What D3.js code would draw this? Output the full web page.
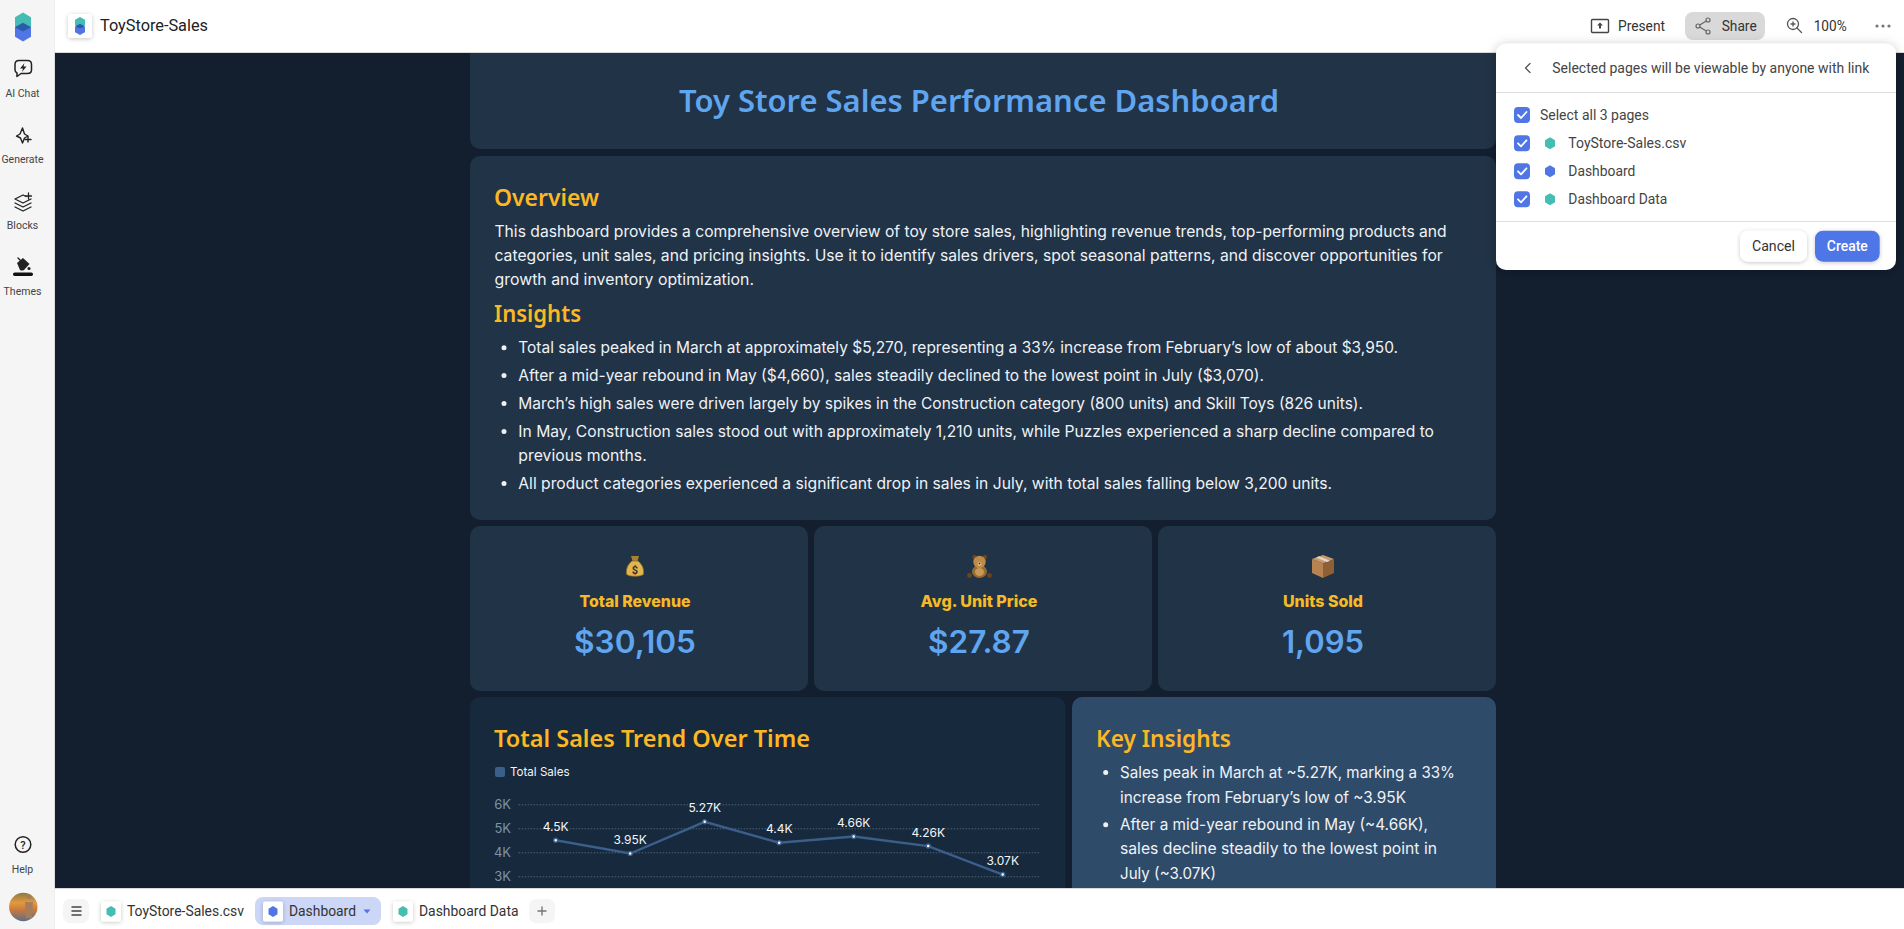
<!DOCTYPE html>
<html>
<head>
<meta charset="utf-8">
<title>ToyStore-Sales</title>
<script src="https://cdn.jsdelivr.net/npm/d3@7"></script>
<style>
  html, body { margin: 0; padding: 0; background: #131f2f; overflow: hidden; }
  svg { display: block; }
</style>
</head>
<body>
<svg id="page" width="1904" height="929"></svg>
<script>
// chart data
let months = ['Jan', 'Feb', 'Mar', 'Apr', 'May', 'Jun', 'Jul']
let totalSales = [4500, 3950, 5270, 4400, 4660, 4260, 3070]
let yTicks = [3000, 4000, 5000, 6000]

// kpi cards
let kpiLabels = ['Total Revenue', 'Avg. Unit Price', 'Units Sold']
let kpiValues = ['$30,105', '$27.87', '1,095']

// text blocks
let overviewLines = [
    'This dashboard provides a comprehensive overview of toy store sales, highlighting revenue trends, top-performing products and',
    'categories, unit sales, and pricing insights. Use it to identify sales drivers, spot seasonal patterns, and discover opportunities for',
    'growth and inventory optimization.'
]
let insightLines = [
    'Total sales peaked in March at approximately $5,270, representing a 33% increase from February\u2019s low of about $3,950.',
    'After a mid-year rebound in May ($4,660), sales steadily declined to the lowest point in July ($3,070).',
    'March\u2019s high sales were driven largely by spikes in the Construction category (800 units) and Skill Toys (826 units).',
    'In May, Construction sales stood out with approximately 1,210 units, while Puzzles experienced a sharp decline compared to',
    'previous months.',
    'All product categories experienced a significant drop in sales in July, with total sales falling below 3,200 units.'
]
let keyInsightLines = [
    'Sales peak in March at ~5.27K, marking a 33%',
    'increase from February\u2019s low of ~3.95K',
    'After a mid-year rebound in May (~4.66K),',
    'sales decline steadily to the lowest point in',
    'July (~3.07K)'
]

// app chrome
let sideItems = ['AI Chat', 'Generate', 'Blocks', 'Themes']
let shareRows = ['ToyStore-Sales.csv', 'Dashboard', 'Dashboard Data']
let tabs = ['ToyStore-Sales.csv', 'Dashboard', 'Dashboard Data']

let bodyFont = 'Inter, sans-serif'
let headFont = '"Noto Sans", sans-serif'
let uiFont = 'Roboto, sans-serif'
let teal = '#45bdb3'
let blue = '#5076e6'
let gold = '#fbb824'
let skyBlue = '#60a5f0'

let svg = d3.select('#page')

let defs = svg.append('defs')
let shadow = defs.append('filter').attr('id', 'shadow')
    .attr('x', '-20%').attr('y', '-20%').attr('width', '140%').attr('height', '140%')
shadow.append('feDropShadow').attr('dx', 0).attr('dy', 1).attr('stdDeviation', 2)
    .attr('flood-color', '#000').attr('flood-opacity', 0.22)
let popShadow = defs.append('filter').attr('id', 'popShadow')
    .attr('x', '-10%').attr('y', '-10%').attr('width', '120%').attr('height', '120%')
popShadow.append('feDropShadow').attr('dx', 0).attr('dy', 2).attr('stdDeviation', 6)
    .attr('flood-color', '#000').attr('flood-opacity', 0.25)
let avatarFill = defs.append('linearGradient').attr('id', 'avatarFill')
    .attr('x1', 0).attr('y1', 0).attr('x2', 0).attr('y2', 1)
avatarFill.append('stop').attr('offset', '0%').attr('stop-color', '#8a7a4a')
avatarFill.append('stop').attr('offset', '35%').attr('stop-color', '#e39a3c')
avatarFill.append('stop').attr('offset', '60%').attr('stop-color', '#c9793f')
avatarFill.append('stop').attr('offset', '100%').attr('stop-color', '#5c6f86')

let box = (parent, x, y, w, h, r, fill) => parent.append('rect')
    .attr('x', x).attr('y', y).attr('width', w).attr('height', h).attr('rx', r).attr('fill', fill)

// w squeezes or stretches the text to the width
let label = (parent, str, x, y, size, fill, font, weight, w, anchor) => {
    let t = parent.append('text')
        .attr('x', x).attr('y', y).attr('font-size', size).attr('fill', fill)
        .attr('font-family', font).attr('font-weight', weight || 400)
        .attr('text-anchor', anchor || 'start')
        .text(str)
    if(w) {
        t.attr('textLength', w).attr('lengthAdjust', 'spacingAndGlyphs')
    }
    return t
}

let hexPath = (cx, cy, rx, ry) => {
    let pts = [[0, -ry], [rx, -ry / 2], [rx, ry / 2], [0, ry], [-rx, ry / 2], [-rx, -ry / 2]]
    return 'M' + pts.map(p => [cx + p[0], cy + p[1]].join(',')).join('L') + 'Z'
}
let hex = (parent, cx, cy, rx, ry, fill) => parent.append('path')
    .attr('d', hexPath(cx, cy, rx, ry)).attr('fill', fill)

let stroke = (parent, d, color, width) => parent.append('path')
    .attr('d', d).attr('fill', 'none').attr('stroke', color)
    .attr('stroke-width', width || 1.4).attr('stroke-linecap', 'round').attr('stroke-linejoin', 'round')

// ---- dashboard cards ----
let dash = svg.append('g')
box(dash, 0, 0, 1904, 929, 0, '#131f2f')
box(dash, 470, 40, 1026, 109, 10, '#213347')
label(dash, 'Toy Store Sales Performance Dashboard', 679, 111.5, 31, skyBlue, headFont, 600, 600)

box(dash, 470, 156, 1026, 364, 10, '#213347')
label(dash, 'Overview', 494, 205.5, 24, gold, headFont, 600, 105)
let overviewEnds = [1446.7, 1442.7, 754]
overviewLines.forEach((line, i) => {
    label(dash, line, 494.5, 237.3 + i * 24, 15.6, '#eef2f6', bodyFont, 400, overviewEnds[i] - 494.5)
})
label(dash, 'Insights', 494, 321.5, 24, gold, headFont, 600, 87)
let insightY = [353.3, 381, 409, 437, 461, 489]
let insightEnds = [1398, 1264, 1363, 1434, 646.7, 1332]
insightLines.forEach((line, i) => {
    label(dash, line, 518.3, insightY[i], 15.6, '#eef2f6', bodyFont, 400, insightEnds[i] - 518.3)
    if(i !== 4) {
        dash.append('circle').attr('cx', 504).attr('cy', insightY[i] - 5.5).attr('r', 2.5).attr('fill', '#eef2f6')
    }
})

let kpiX = d3.scalePoint().domain(kpiLabels).range([635, 1323])
let kpiCardX = [470, 814, 1158]
kpiLabels.forEach((name, i) => {
    box(dash, kpiCardX[i], 526, 338, 165, 10, '#213347')
    let cx = kpiX(name)
    label(dash, name, cx, 606.5, 16, '#f5bb26', bodyFont, 800, [111, 117, 80][i], 'middle')
    label(dash, kpiValues[i], cx, 652.5, 31, skyBlue, bodyFont, 600, [122, 102, 82][i], 'middle')
})

// money bag
let bag = dash.append('g')
bag.append('path').attr('d', 'M631 556 L639 556 L637.5 561 L632.5 561 Z').attr('fill', '#a9812f')
bag.append('path').attr('d', 'M632 561 L638 561 C643 565 644 570 643.5 574 C643 577 627 577 626.5 574 C626 570 627 565 632 561 Z')
    .attr('fill', '#e2b64f').attr('stroke', '#8d6a22').attr('stroke-width', 0.8)
label(bag, '$', 635, 574, 11, '#3b3326', uiFont, 700, null, 'middle')
// teddy bear
let bear = dash.append('g')
bear.selectAll('circle.part')
    .data([[974.5, 557, 2.2], [985, 557, 2.2], [969.5, 575.5, 2.4], [989.5, 575.5, 2.4]])
    .enter().append('circle').attr('cx', d => d[0]).attr('cy', d => d[1]).attr('r', d => d[2]).attr('fill', '#6e4418')
bear.append('ellipse').attr('cx', 979.5).attr('cy', 571.5).attr('rx', 7.5).attr('ry', 6.5).attr('fill', '#9a6a30')
bear.append('ellipse').attr('cx', 979.5).attr('cy', 572).attr('rx', 4.5).attr('ry', 4).attr('fill', '#c89a58')
bear.append('circle').attr('cx', 979.5).attr('cy', 562).attr('r', 6.2).attr('fill', '#bd8a48')
bear.append('circle').attr('cx', 979.5).attr('cy', 564).attr('r', 2).attr('fill', '#e0b880')
bear.append('circle').attr('cx', 979.5).attr('cy', 563.5).attr('r', 0.8).attr('fill', '#2b1a0c')
// parcel
let parcel = dash.append('g')
parcel.append('path').attr('d', 'M1323 555 L1334 559 L1323 563.5 L1312 559 Z').attr('fill', '#c79a6b')
parcel.append('path').attr('d', 'M1312 559 L1323 563.5 L1323 578 L1312 573 Z').attr('fill', '#b78350')
parcel.append('path').attr('d', 'M1334 559 L1323 563.5 L1323 578 L1334 573 Z').attr('fill', '#8f5f35')
parcel.append('path').attr('d', 'M1316 557.4 L1327 561.9 L1330 560.7 L1319 556.2 Z').attr('fill', '#e3d6c6')

// ---- line chart card ----
box(dash, 470, 697, 595.5, 232, 10, '#16293d')
label(dash, 'Total Sales Trend Over Time', 494, 747.3, 24, gold, headFont, 600, 316)
box(dash, 495, 767, 10, 10, 2, '#3b5f8a')
label(dash, 'Total Sales', 510, 776, 12, '#f2f5f8', bodyFont, 400, 59.5)

let x = d3.scalePoint().domain(months).range([555.7, 1002.7])
let y = d3.scaleLinear().domain([3000, 6000]).range([876.3, 804.3])
let formatK = v => (v / 1000) + 'K'

let chart = dash.append('g')
let yAxis = d3.axisLeft(y)
    .tickValues(yTicks)
    .tickSize(-521.4)
    .tickPadding(7.5)
    .tickFormat(formatK)
chart.append('g')
    .attr('transform', 'translate(518.6,0)')
    .call(yAxis)
    .call(g => g.select('.domain').remove())
    .call(g => g.selectAll('.tick line')
        .attr('stroke', '#4f6276').attr('stroke-width', 1).attr('stroke-dasharray', '1.5,1.5'))
    .call(g => g.selectAll('.tick text')
        .attr('fill', '#7f93a8').attr('font-size', 13).attr('font-family', bodyFont))

let salesLine = d3.line().x((d, i) => x(months[i])).y(d => y(d))
chart.append('path')
    .datum(totalSales)
    .attr('d', salesLine)
    .attr('fill', 'none')
    .attr('stroke', '#3b5f8a')
    .attr('stroke-width', 2.4)

chart.selectAll('circle.dot')
    .data(totalSales)
    .enter()
    .append('circle')
    .attr('cx', (d, i) => x(months[i]))
    .attr('cy', d => y(d))
    .attr('r', 2)
    .attr('fill', '#fff')
    .attr('stroke', '#3b5f8a')
    .attr('stroke-width', 1.5)

chart.selectAll('text.point')
    .data(totalSales)
    .enter()
    .append('text')
    .attr('x', (d, i) => x(months[i]))
    .attr('y', d => y(d) - 9.5)
    .attr('text-anchor', 'middle')
    .attr('font-size', 12)
    .attr('font-family', bodyFont)
    .attr('fill', '#f4f6f8')
    .text(formatK)

// ---- key insights card ----
box(dash, 1072, 697, 424, 232, 10, '#2f4b6a')
label(dash, 'Key Insights', 1096, 747.3, 24, gold, headFont, 600, 135)
let keyY = [778, 802.5, 830.3, 854.3, 878.5]
let keyW = [335, 286, 308, 317, 96]
keyInsightLines.forEach((l, i) => {
    label(dash, l, 1120, keyY[i], 15.6, '#eef2f6', bodyFont, 400, keyW[i])
})
;[772.5, 824.8].forEach(cy => {
    dash.append('circle').attr('cx', 1105.7).attr('cy', cy).attr('r', 2.5).attr('fill', '#eef2f6')
})

// ---- sidebar ----
let side = svg.append('g')
box(side, 0, 0, 54.5, 929, 0, '#f5f5f5')
side.append('line').attr('x1', 54.5).attr('x2', 54.5).attr('y1', 0).attr('y2', 929).attr('stroke', '#dcdcdc')
hex(side, 23, 22, 8, 9.5, teal)
hex(side, 23, 32, 8, 9.5, blue)
side.append('path').attr('d', 'M23 23 L31 27.2 L23 31.4 L15 27.2 Z').attr('fill', '#2a5ca8')

let sideY = [96.7, 163, 229, 295]
sideItems.forEach((name, i) => {
    label(side, name, 22.5, sideY[i], 10.5, '#444', uiFont, 400, null, 'middle')
})
stroke(side, 'M19 60.5 H27.5 Q31.5 60.5 31.5 64.5 V70 Q31.5 73.5 27.5 73.5 H21 L17 76.5 V73 Q15 72 15 70 V64.5 Q15 60.5 19 60.5 Z', '#222', 1.5)
side.append('path').attr('d', 'M24.5 63 L20 68.5 H23 L22 72 L26.5 66.5 H23.5 Z').attr('fill', '#222')
stroke(side, 'M22.5 128 L24.5 134 L28 136 L24.5 138 L22.5 143 L20.5 138 L16.5 136 L20 134 Z', '#222', 1.4)
stroke(side, 'M28 136.5 V142 M25 139.5 H31', '#222', 1.4)
stroke(side, 'M15 199 L23 195 L26 196.5 M15 203 L23 207 L31 203 M15 207 L23 211 L31 207 M15 199 L23 203 L31 199', '#222', 1.3)
stroke(side, 'M28.5 193 V199 M25.5 196 H31.5', '#222', 1.3)
side.append('path').attr('d', 'M17 263 L23 258 L29.5 264 L24 270 Q22 271 20 270 Z').attr('fill', '#222')
stroke(side, 'M18 258 L22 262', '#222', 1.4)
side.append('circle').attr('cx', 29).attr('cy', 268.5).attr('r', 1.6).attr('fill', '#222')
box(side, 13, 272.5, 20, 3.5, 1.7, '#111')

side.append('circle').attr('cx', 23).attr('cy', 844.5).attr('r', 7.8)
    .attr('fill', 'none').attr('stroke', '#222').attr('stroke-width', 1.5)
label(side, '?', 23, 848.5, 11, '#222', uiFont, 500, null, 'middle')
label(side, 'Help', 22.5, 873, 10.5, '#444', uiFont, 400, null, 'middle')
side.append('circle').attr('cx', 23.3).attr('cy', 907).attr('r', 14.2).attr('fill', 'url(#avatarFill)')
side.append('path').attr('d', 'M29 899 a2.3 2.3 0 1 1 0.1 0 Z M25 902 H33 L32 918 H26 Z').attr('fill', '#a67c5a')

// ---- top bar ----
let topBar = svg.append('g')
box(topBar, 54.5, 0, 1849.5, 52.5, 0, '#fff')
topBar.append('line').attr('x1', 54.5).attr('x2', 1904).attr('y1', 52.5).attr('y2', 52.5).attr('stroke', '#d9d9d9')
box(topBar, 68, 14, 24, 24, 3, '#fff').attr('filter', 'url(#shadow)')
hex(topBar, 80, 22.5, 5, 5.5, teal)
hex(topBar, 80, 29.5, 5, 5.5, blue)
topBar.append('path').attr('d', 'M80 24 L85 26.2 L80 28.4 L75 26.2 Z').attr('fill', '#2a5ca8')
label(topBar, 'ToyStore-Sales', 100, 31, 16, '#222', uiFont, 400, 108)

topBar.append('rect').attr('x', 1591.5).attr('y', 19.5).attr('width', 17).attr('height', 13).attr('rx', 1)
    .attr('fill', 'none').attr('stroke', '#444').attr('stroke-width', 1.4)
topBar.append('path').attr('d', 'M1600 22.5 L1603 25.5 H1601 V28.5 H1599 V25.5 H1597 Z').attr('fill', '#444')
label(topBar, 'Present', 1618, 31, 14, '#333', uiFont, 400, 47)

box(topBar, 1685, 12, 80, 28, 8, '#d9d9d9')
stroke(topBar, 'M1708 20 L1698 26 L1708 32', '#666', 1.2)
;[[1708, 20], [1698, 26], [1708, 32]].forEach(p => {
    topBar.append('circle').attr('cx', p[0]).attr('cy', p[1]).attr('r', 2)
        .attr('fill', '#d9d9d9').attr('stroke', '#666').attr('stroke-width', 1.2)
})
label(topBar, 'Share', 1721.7, 31, 14, '#333', uiFont, 400, 35)

topBar.append('circle').attr('cx', 1793).attr('cy', 24).attr('r', 5.5)
    .attr('fill', 'none').attr('stroke', '#555').attr('stroke-width', 1.3)
stroke(topBar, 'M1797 28 L1801.5 32.5 M1791 24 H1795 M1793 22 V26', '#555', 1.3)
label(topBar, '100%', 1813.7, 31, 14, '#333', uiFont, 400, 33)
;[1877, 1883, 1889].forEach(cx => {
    topBar.append('circle').attr('cx', cx).attr('cy', 26).attr('r', 1.6).attr('fill', '#777')
})

// ---- share popup ----
let pop = svg.append('g')
box(pop, 1496, 43.7, 400, 226.3, 10, '#fff').attr('filter', 'url(#popShadow)')
stroke(pop, 'M1530 63.5 L1525.5 68 L1530 72.5', '#555', 1.3)
label(pop, 'Selected pages will be viewable by anyone with link', 1552.3, 73, 14, '#444', uiFont, 400, 317)
pop.append('line').attr('x1', 1496).attr('x2', 1896).attr('y1', 92.5).attr('y2', 92.5).attr('stroke', '#ddd')
pop.append('line').attr('x1', 1496).attr('x2', 1896).attr('y1', 221.5).attr('y2', 221.5).attr('stroke', '#ddd')

let checkbox = cy => {
    box(pop, 1514, cy - 8, 16, 16, 4, blue)
    stroke(pop, `M1518 ${cy} L1521 ${cy + 3} L1526.5 ${cy - 3}`, '#fff', 1.8)
}
checkbox(115)
label(pop, 'Select all 3 pages', 1540, 120, 14, '#444', uiFont, 400, 109)
let rowWidths = [118, 67, 99]
shareRows.forEach((row, i) => {
    let cy = 143.3 + i * 28
    checkbox(cy)
    hex(pop, 1550, cy, 5, 6, i === 1 ? blue : teal)
    label(pop, row, 1568.3, cy + 5, 14, '#444', uiFont, 400, rowWidths[i])
})
box(pop, 1740, 230.7, 67, 31, 8, '#fff').attr('filter', 'url(#shadow)')
label(pop, 'Cancel', 1773.5, 251, 14, '#333', uiFont, 400, 43, 'middle')
box(pop, 1815, 230.7, 64.7, 31, 8, blue).attr('filter', 'url(#shadow)')
label(pop, 'Create', 1847.3, 251, 14, '#fff', uiFont, 500, 41, 'middle')

// ---- bottom tab bar ----
let bar = svg.append('g')
box(bar, 54.5, 888.5, 1849.5, 40.5, 0, '#fff')
bar.append('line').attr('x1', 54.5).attr('x2', 1904).attr('y1', 888.5).attr('y2', 888.5).attr('stroke', '#d9d9d9')
box(bar, 63, 899, 26, 24, 7, '#f5f5f5')
stroke(bar, 'M72 907 H81 M72 911 H81 M72 915 H81', '#444', 1.4)
box(bar, 255, 897, 126, 28, 8, '#ccd6f6')
let tabIconX = [111, 273, 403]
let tabTextX = [127, 289, 419]
let tabTextW = [117, 67, 99.5]
tabs.forEach((tab, i) => {
    box(bar, tabIconX[i] - 10, 901.5, 20, 20, 2, '#fff').attr('filter', 'url(#shadow)')
    hex(bar, tabIconX[i], 911.5, 4.5, 5.5, i === 1 ? blue : teal)
    label(bar, tab, tabTextX[i], 916, 14, '#333', uiFont, 400, tabTextW[i])
})
bar.append('path').attr('d', 'M363.5 909.5 H370.5 L367 913.5 Z').attr('fill', blue)
box(bar, 529, 899, 26, 24, 7, '#f5f5f5')
stroke(bar, 'M538 911 H546 M542 907 V915', '#777', 1.4)
</script>
</body>
</html>
